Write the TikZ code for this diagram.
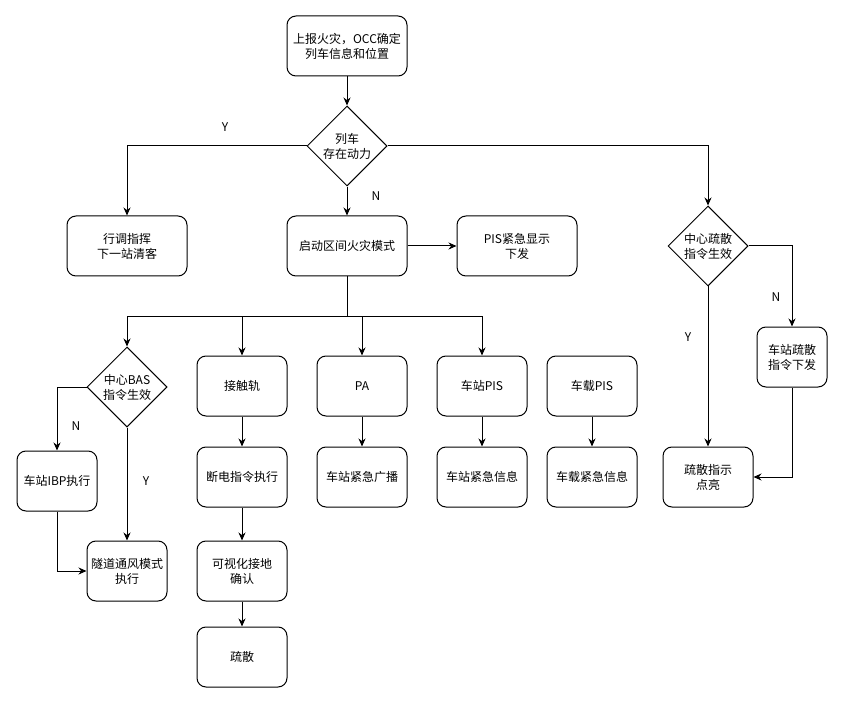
\documentclass[tikz,border=0pt]{standalone}
\usepackage{fontspec}
\setmainfont{Noto Sans CJK SC}
\usetikzlibrary{shapes.geometric,arrows.meta}
\begin{document}
\begin{tikzpicture}[x=1pt,y=-1pt,
  font=\fontsize{12}{15}\selectfont,
  line width=1pt,
  box/.style={draw,rounded corners=9pt,align=center,minimum width=#1,minimum height=60pt,inner sep=1pt},
  box/.default=120pt,
  dia/.style={draw,diamond,aspect=1,minimum width=80pt,minimum height=80pt,inner sep=0pt,align=center},
  arr/.style={-{Stealth[length=8pt,width=7pt]}},
  lbl/.style={font=\fontsize{12}{15}\selectfont}]
\useasboundingbox (0,0) rectangle (843,703);
% top
\node[box] (top) at (347,46) {上报火灾，OCC确定\\列车信息和位置};
\node[dia] (d1) at (347,146) {列车\\存在动力};
\node[box] (xt) at (127,246) {行调指挥\\下一站清客};
\node[box] (qd) at (347,246) {启动区间火灾模式};
\node[box] (pis) at (517,246) {PIS紧急显示\\下发};
\node[dia] (d2) at (708,246) {中心疏散\\指令生效};
\node[box=70pt] (czss) at (792,357) {车站疏散\\指令下发};
\node[box=90pt] (ssd) at (708,477) {疏散指示\\点亮};
% branches
\node[dia] (d3) at (127,387) {中心BAS\\指令生效};
\node[box=80pt] (ibp) at (57,481) {车站IBP执行};
\node[box=80pt] (sd) at (127,571) {隧道通风模式\\执行};
\node[box=90pt] (jcg) at (242,386) {接触轨};
\node[box=90pt] (dd) at (242,477) {断电指令执行};
\node[box=90pt] (ksh) at (242,571) {可视化接地\\确认};
\node[box=90pt] (ss) at (242,657) {疏散};
\node[box=90pt] (pa) at (362,386) {PA};
\node[box=90pt] (czgb) at (362,477) {车站紧急广播};
\node[box=90pt] (czpis) at (482,386) {车站PIS};
\node[box=90pt] (czxx) at (482,477) {车站紧急信息};
\node[box=90pt] (czai) at (592,386) {车载PIS};
\node[box=90pt] (czaixx) at (592,477) {车载紧急信息};
% labels
\node[lbl] (ly1) at (225,127) {Y};
\node[lbl] (ln1) at (376,196) {N};
\node[lbl] (ly2) at (688,337) {Y};
\node[lbl] (ln2) at (776,297) {N};
\node[lbl] (ln3) at (76,426) {N};
\node[lbl] (ly3) at (146,481) {Y};
% connectors
\draw[arr] (top) -- (d1);
\draw[arr] (d1.west) -| (xt.north);
\draw[arr] (d1) -- (qd);
\draw[arr] (d1.east) -| (d2.north);
\draw[arr] (qd) -- (pis);
\draw[arr] (d2.east) -| (czss.north);
\draw[arr] (d2.south) -- (ssd.north);
\draw[arr] (czss.south) |- (ssd.east);
\coordinate (br) at (347,316);
\draw (qd.south) -- (br);
\draw[arr] (br) -| (d3.north);
\draw[arr] (br) -| (jcg.north);
\draw[arr] (br) -| (pa.north);
\draw[arr] (br) -| (czpis.north);
\draw[arr] (d3.west) -| (ibp.north);
\draw[arr] (d3.south) -- (sd.north);
\draw[arr] (ibp.south) |- (sd.west);
\draw[arr] (jcg) -- (dd);
\draw[arr] (dd) -- (ksh);
\draw[arr] (ksh) -- (ss);
\draw[arr] (pa) -- (czgb);
\draw[arr] (czpis) -- (czxx);
\draw[arr] (czai) -- (czaixx);
\end{tikzpicture}
\end{document}
